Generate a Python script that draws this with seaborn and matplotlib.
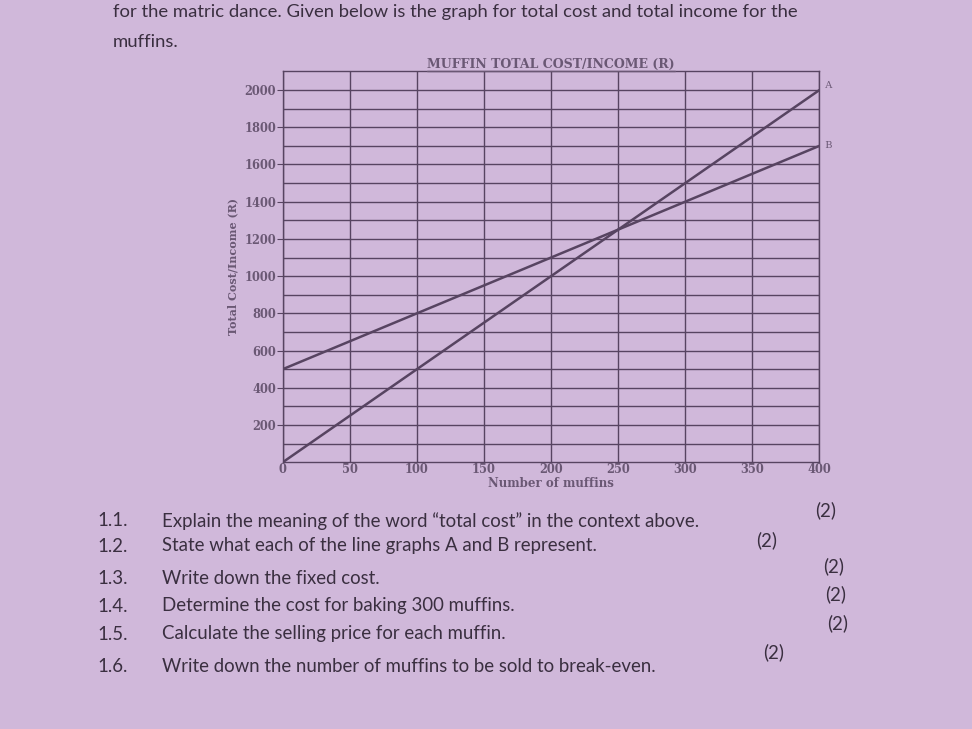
import numpy as np
import pandas as pd
import matplotlib.pyplot as plt
import seaborn as sns
from matplotlib.lines import Line2D

# values
muffins = [0, 100, 200, 300, 400]
income_a = [0, 500, 1000, 1500, 2000]     # line A
cost_b = [500, 800, 1100, 1400, 1700]     # line B
x_ticks = [0, 50, 100, 150, 200, 250, 300, 350, 400]
y_ticks = [200, 400, 600, 800, 1000, 1200, 1400, 1600, 1800, 2000]

intro = ["for the matric dance. Given below is the graph for total cost and total income for the",
         "muffins."]
q_nums = ["1.1.", "1.2.", "1.3.", "1.4.", "1.5.", "1.6."]
q_texts = ["Explain the meaning of the word \u201ctotal cost\u201d in the context above.",
           "State what each of the line graphs A and B represent.",
           "Write down the fixed cost.",
           "Determine the cost for baking 300 muffins.",
           "Calculate the selling price for each muffin.",
           "Write down the number of muffins to be sold to break-even."]
q_marks = ["(2)", "(2)", "(2)", "(2)", "(2)", "(2)"]

df = pd.DataFrame({
    'muffins': muffins * 2,
    'value': income_a + cost_b,
    'line': ['A'] * len(muffins) + ['B'] * len(muffins),
})

sns.set_style('ticks')
plt.rcParams['font.family'] = ['DejaVu Serif']

bg = '#d0b8da'
ink = '#574461'
grey = '#6a5874'
txt = '#3a2f40'

fig = plt.figure(figsize=(9.72, 7.29), dpi=100, facecolor=bg)
ax = fig.add_axes([0.291, 0.366, 0.552, 0.536])
ax.set_facecolor(bg)

sns.lineplot(data=df, x='muffins', y='value', hue='line',
             palette=[ink, ink], linewidth=1.8, legend=False, ax=ax)

ax.set_xlim(0, 400)
ax.set_ylim(0, 2100)
ax.set_xticks(x_ticks)
ax.set_yticks(y_ticks)
ax.set_yticks(np.arange(100, 2100, 100), minor=True)
ax.grid(True, which='both', color=ink, linewidth=1.0)
ax.tick_params(axis='x', length=0, pad=0.5, labelsize=8.3, labelcolor=grey)
ax.tick_params(axis='y', which='major', length=4, color=ink, pad=1, labelsize=8.3, labelcolor=grey)
ax.tick_params(axis='y', which='minor', length=0)
for lab in ax.get_xticklabels() + ax.get_yticklabels():
    lab.set_fontweight('bold')
for s in ax.spines.values():
    s.set_color(ink)
    s.set_linewidth(1.0)

ax.set_xlabel('Number of muffins', fontsize=8.5, fontweight='bold', color=grey, labelpad=0.5)
ax.set_ylabel('Total Cost/Income (R)', fontsize=8, fontweight='bold', color=grey, labelpad=4)
title = ax.set_title('MUFFIN TOTAL COST/INCOME (R)', fontsize=9, fontweight='bold',
                     color=grey, pad=-8)

ax.text(muffins[-1], income_a[-1], '  A', fontsize=7, color=grey, va='bottom', ha='left')
ax.text(muffins[-1], cost_b[-1], '  B', fontsize=7, color=grey, va='center', ha='left')

# worksheet text around the chart
fig.text(113 / 972, 1 - 12 / 729, intro[0], fontsize=13.3, color=txt, family='Lato', va='center')
fig.text(113 / 972, 1 - 42 / 729, intro[1], fontsize=13.3, color=txt, family='Lato', va='center')

q_y = [521, 546, 578, 606, 634, 666]
m_pos = [(826, 510), (767, 540), (834, 566), (836, 594), (838, 623), (774, 652)]
for num, t, m, y, (mx, my) in zip(q_nums, q_texts, q_marks, q_y, m_pos):
    fig.text(97 / 972, 1 - y / 729, num, fontsize=13.4, color=txt, family='Lato', va='center')
    fig.text(162 / 972, 1 - y / 729, t, fontsize=13.4, color=txt, family='Lato', va='center')
    fig.text(mx / 972, 1 - my / 729, m, fontsize=13.4, color=txt, family='Lato', va='center', ha='center')

# underline the chart title
fig.canvas.draw()
bb = title.get_window_extent().transformed(fig.transFigure.inverted())
fig.add_artist(Line2D([bb.x0, bb.x1], [bb.y0 + 0.001, bb.y0 + 0.001],
                      transform=fig.transFigure, color=grey, linewidth=1.0))

fig.savefig('out.png', dpi=100, facecolor=bg)
